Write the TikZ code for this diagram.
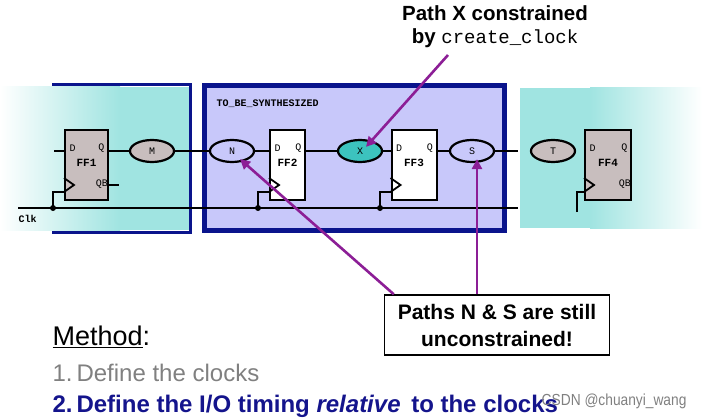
\documentclass[tikz,border=0pt]{standalone}
\usepackage{fontspec}
\setmainfont{Liberation Sans}
\setmonofont{Liberation Mono}
\newfontfamily\narrow[FakeStretch=0.86]{Liberation Sans}
\usetikzlibrary{arrows.meta,shapes.geometric}
\definecolor{dblue}{RGB}{10,20,140}
\definecolor{lav}{RGB}{200,200,250}
\definecolor{teal1}{RGB}{160,228,225}
\definecolor{ffgray}{RGB}{200,190,190}
\definecolor{xteal}{RGB}{60,195,190}
\definecolor{purp}{RGB}{140,30,150}
\definecolor{navy}{RGB}{20,20,140}
\tikzset{
  ffbox/.style={draw=black,line width=2pt,minimum width=#1,minimum height=70pt,inner sep=0pt},
  sig/.style={ellipse,draw=black,line width=2.2pt,minimum width=44pt,minimum height=22pt,inner sep=0pt,font=\ttfamily\fontsize{10}{10}\selectfont},
  wire/.style={line width=1.6pt},
  callarr/.style={draw=purp,line width=2.6pt,-{Triangle[length=10pt,width=10pt]}},
  pin/.style={font=\ttfamily\fontsize{10}{10}\selectfont},
  ffname/.style={font=\ttfamily\bfseries\fontsize{11}{11}\selectfont}
}
\begin{document}
\begin{tikzpicture}[x=1pt,y=-1pt]
\useasboundingbox (0,0) rectangle (702,420);
% left region
\shade[left color=white,right color=teal1,shading angle=90] (0,87) rectangle (120,230);
\fill[teal1] (119.5,87) rectangle (190,230);
\draw[dblue,line width=3pt] (52,85) -- (190,85) -- (190,232) -- (52,232);
% right region
\fill[teal1] (520,88) rectangle (590.5,228);
\shade[left color=teal1,right color=white] (590,88) rectangle (702,228);
% middle box
\draw[dblue,fill=lav,line width=5pt] (204,86) rectangle (504,230);
\node[anchor=west,font=\ttfamily\bfseries\fontsize{10}{10}\selectfont] (tbs) at (213,104) {TO\_BE\_SYNTHESIZED};
% clock line
\coordinate (clkL) at (18,208);
\coordinate (clkR) at (518,208);
\draw[wire] (clkL) -- (clkR);
\node[anchor=west,font=\ttfamily\bfseries\fontsize{10}{10}\selectfont] (clk) at (15,219) {Clk};
% signal nodes
\node[ffbox=43pt,fill=ffgray] (ff1) at (86.5,165) {};
\node[sig,fill=ffgray] (M) at (152,151) {M};
\node[sig,fill=lav] (N) at (232,151) {N};
\node[ffbox=35pt,fill=white] (ff2) at (287.5,165) {};
\node[sig,fill=xteal] (X) at (360,151) {X};
\node[ffbox=45pt,fill=white] (ff3) at (414,165) {};
\node[sig,fill=lav] (S) at (472,151) {S};
\node[sig,fill=ffgray] (T) at (553,151) {T};
\node[ffbox=46pt,fill=ffgray] (ff4) at (608,165) {};
\coordinate (sigR) at (518,151);
% wires
\draw[wire] (ff1.west|-0,151) ++(-10,0) -- ++(10,0);
\draw[wire] (ff1.east|-0,151) -- (M);
\draw[wire] (M) -- (N);
\draw[wire] (N) -- (ff2.west|-0,151);
\draw[wire] (ff2.east|-0,151) -- (X);
\draw[wire] (X) -- (ff3.west|-0,151);
\draw[wire] (ff3.east|-0,151) -- (S);
\draw[wire] (S) -- (sigR);
\draw[wire] (ff1.east|-0,185) -- ++(10,0);
% FF internals
\foreach \f/\n in {ff1/FF1,ff2/FF2,ff3/FF3,ff4/FF4}{
  \node[pin,anchor=west] at ([xshift=2pt]\f.west|-0,148) {D};
  \node[pin,anchor=east] at ([xshift=-1pt]\f.east|-0,148) {Q};
  \node[ffname] at ([yshift=2pt]\f.center) {\n};
  \draw[line width=1.8pt] ([yshift=-7pt]\f.west|-0,185) -- ([xshift=10pt]\f.west|-0,185) -- ([yshift=7pt]\f.west|-0,185);
}
\foreach \f in {ff1,ff4}{\node[pin,anchor=east,inner sep=1pt] at (\f.east|-0,184) {QB};}
% clock wires
\draw[wire] (53,208) -- (53,192) -- (ff1.west|-0,192);
\draw[wire] (258,208) -- (258,192) -- (ff2.west|-0,192);
\draw[wire] (380,208) -- (380,192) -- (ff3.west|-0,192);
\draw[wire] (577,212) -- (577,192) -- (ff4.west|-0,192);
\foreach \xx in {53,258,380}{\fill (\xx,208) circle (3pt);}
% callouts
\node[font=\bfseries\fontsize{20.5}{23}\selectfont,align=center,inner sep=0pt] (topc) at (495,27) {Path X constrained\\by {\ttfamily\mdseries\fontsize{19}{19}\selectfont create\_clock}};
\node[draw=black,line width=1.5pt,fill=white,align=center,font=\bfseries\fontsize{21}{27}\selectfont,minimum width=225pt,minimum height=60pt,inner sep=1pt] (box) at (497,325) {Paths N \& S are still\\unconstrained!};
\coordinate (topa) at (448,55);
\draw[callarr] (topa) -- ([shift={(6pt,-8pt)}]X.north);
\draw[callarr] ([xshift=10pt]box.north west) -- ([shift={(8pt,4pt)}]N.south);
\draw[callarr] ([xshift=-20pt]box.north) -- ([shift={(5pt,4pt)}]S.south);
% method
\node[anchor=west,font=\fontsize{27}{27}\selectfont] (meth) at (49,337) {\underline{Method}:};
\node[anchor=west,font=\fontsize{24}{24}\selectfont,text=gray] (m1) at (49,373) {1.\,Define the clocks};
\node[anchor=west,font=\bfseries\fontsize{24}{24}\selectfont,text=navy] (m2) at (49,406) {2.\,Define the I/O timing \textit{relative}\, to the clocks};
\node[anchor=east,font=\narrow\fontsize{16}{16}\selectfont,text=gray] (wm) at (690,401) {CSDN @chuanyi\_wang};
\end{tikzpicture}
\end{document}
